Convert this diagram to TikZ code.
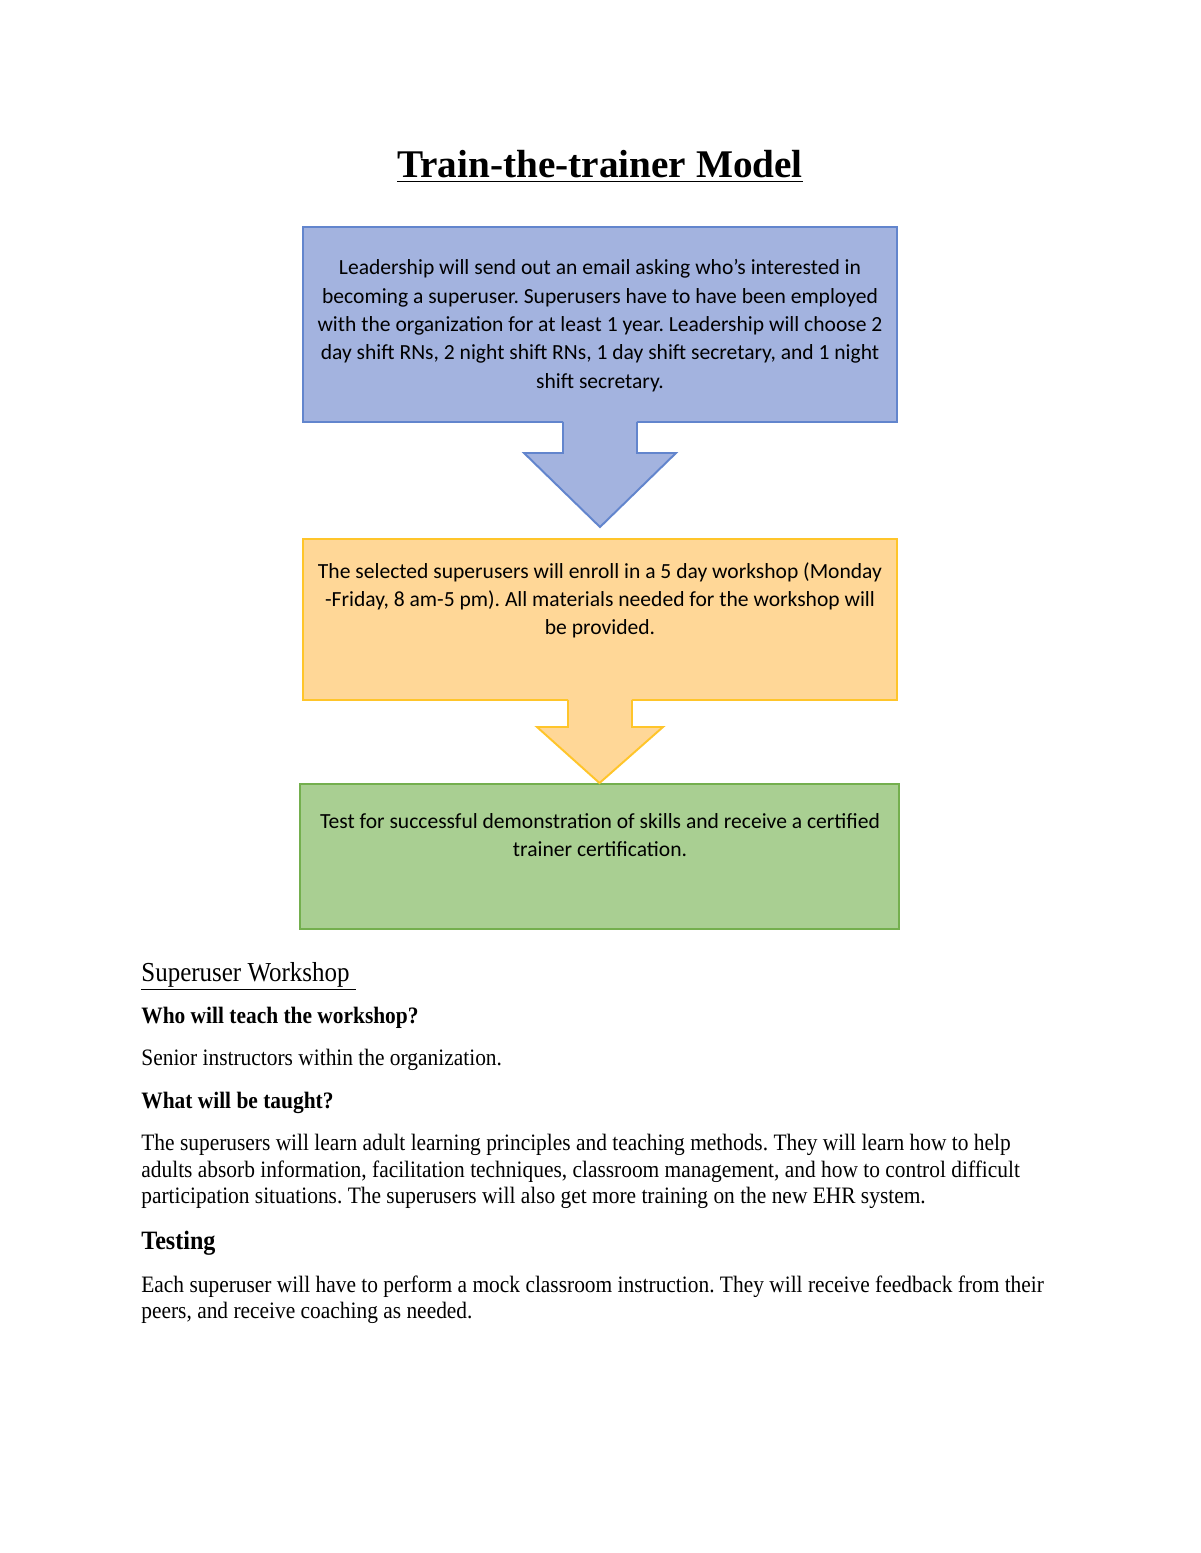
\documentclass[tikz,border=0pt]{standalone}
\usepackage{fontspec}
\setmainfont{Liberation Serif}
\newfontfamily\notefont[FakeStretch=0.91]{Liberation Serif}
\newfontfamily\boxfont{Carlito}
\usetikzlibrary{calc}
\frenchspacing
\definecolor{blueFill}{HTML}{A3B3DF}
\definecolor{blueLine}{HTML}{6285CD}
\definecolor{orangeFill}{HTML}{FFD797}
\definecolor{orangeLine}{HTML}{FFC52A}
\definecolor{greenFill}{HTML}{A9CF92}
\definecolor{greenLine}{HTML}{74AF4E}
\tikzset{
  box/.style={draw, line width=1pt, inner sep=0pt},
  boxtext/.style={anchor=base, inner sep=0pt, font=\boxfont\fontsize{11}{13}\selectfont},
  bodytext/.style={anchor=base west, inner sep=0pt, font=\notefont\fontsize{12}{14}\selectfont},
}
\begin{document}
\begin{tikzpicture}[x=0.51pt, y=-0.51pt]
    \useasboundingbox[fill=white] (0,0) rectangle (1200,1553);
    \node[anchor=base, inner sep=0pt, font=\bfseries\fontsize{20}{24}\selectfont] (title) at (600,178) {\underline{Train-the-trainer Model}};

    \node[box, draw=blueLine, fill=blueFill, minimum width=594*0.51pt, minimum height=195*0.51pt] (1) at (600,324.5) {};
    \node[box, draw=orangeLine, fill=orangeFill, minimum width=594*0.51pt, minimum height=161*0.51pt] (2) at (600,619.5) {};
    \node[box, draw=greenLine, fill=greenFill, minimum width=599*0.51pt, minimum height=145*0.51pt] (3) at (599.5,856.5) {};

    \coordinate (t1) at ($(2.north)+(0,-11)$);
    \coordinate (t2) at (3.north);
    \fill[blueFill] ($(1.south)+(-37,-3)$) -- ($(1.south)+(-37,30)$) -- ($(1.south)+(-76,30)$) -- (t1) -- ($(1.south)+(76,30)$) -- ($(1.south)+(37,30)$) -- ($(1.south)+(37,-3)$) -- cycle;
    \draw[blueLine, line width=1pt] ($(1.south)+(-37,-1)$) -- ($(1.south)+(-37,30)$) -- ($(1.south)+(-76,30)$) -- (t1) -- ($(1.south)+(76,30)$) -- ($(1.south)+(37,30)$) -- ($(1.south)+(37,-1)$);
    \fill[orangeFill] ($(2.south)+(-32,-3)$) -- ($(2.south)+(-32,26)$) -- ($(2.south)+(-63,26)$) -- (t2) -- ($(2.south)+(63,26)$) -- ($(2.south)+(32,26)$) -- ($(2.south)+(32,-3)$) -- cycle;
    \draw[orangeLine, line width=1pt] ($(2.south)+(-32,-1)$) -- ($(2.south)+(-32,26)$) -- ($(2.south)+(-63,26)$) -- (t2) -- ($(2.south)+(63,26)$) -- ($(2.south)+(32,26)$) -- ($(2.south)+(32,-1)$);

    % text in the boxes
    \foreach \t [count=\i] in {{Leadership will send out an email asking who’s interested in},
        {becoming a superuser. Superusers have to have been employed},
        {with the organization for at least 1 year. Leadership will choose 2},
        {day shift RNs, 2 night shift RNs, 1 day shift secretary, and 1 night},
        {shift secretary.}}
        \node[boxtext] (a\i) at (600,275+28.3*\i-28.3) {\t};
    \foreach \t [count=\i] in {{The selected superusers will enroll in a 5 day workshop (Monday},
        {-Friday, 8 am-5 pm). All materials needed for the workshop will},
        {be provided.}}
        \node[boxtext] (b\i) at (600,578+28*\i-28) {\t};
    \foreach \t [count=\i] in {{Test for successful demonstration of skills and receive a certified},
        {trainer certification.}}
        \node[boxtext] (c\i) at (600,828+28.5*\i-28.5) {\t};

    % workshop notes
    \node[bodytext, font=\notefont\fontsize{14}{16}\selectfont] (h1) at (141,981) {\underline{Superuser Workshop\ }};
    \node[bodytext, font=\notefont\bfseries\fontsize{12}{14}\selectfont] (q1) at (141,1023) {Who will teach the workshop?};
    \node[bodytext] (p1) at (141,1065) {Senior instructors within the organization.};
    \node[bodytext, font=\notefont\bfseries\fontsize{12}{14}\selectfont] (q2) at (141,1108) {What will be taught?};
    \node[bodytext] (p2) at (141,1150) {The superusers will learn adult learning principles and teaching methods. They will learn how to help};
    \node[bodytext] (p3) at (141,1177) {adults absorb information, facilitation techniques, classroom management, and how to control difficult};
    \node[bodytext] (p4) at (141,1203) {participation situations. The superusers will also get more training on the new EHR system.};
    \node[bodytext, font=\notefont\bfseries\fontsize{13.5}{16}\selectfont] (h2) at (141,1249) {Testing};
    \node[bodytext] (p5) at (141,1292) {Each superuser will have to perform a mock classroom instruction. They will receive feedback from their};
    \node[bodytext] (p6) at (141,1318) {peers, and receive coaching as needed.};
\end{tikzpicture}
\end{document}
